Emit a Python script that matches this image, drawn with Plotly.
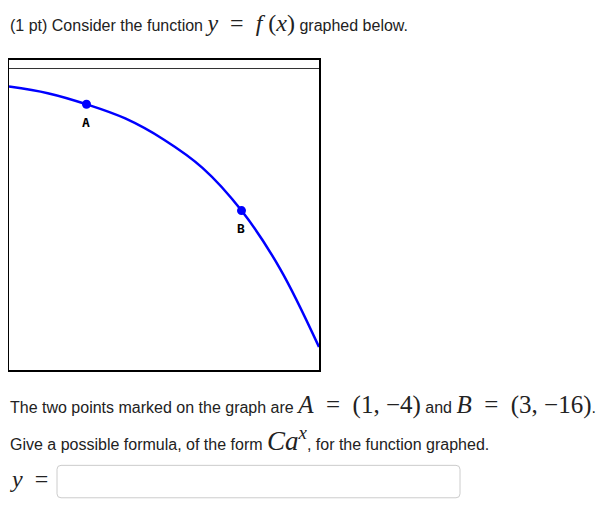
import plotly.graph_objects as go

# values
curve_x = [0, 0.5, 1, 1.5, 2, 2.5, 3, 3.5, 4]
curve_y = [-2, -2.75, -4, -5.6, -8, -11.2, -16, -22.6, -31.4]
point_names = ["A", "B"]
point_x = [1, 3]
point_y = [-4, -16]

# the page body adds an 8px margin, so the figure is a bit smaller than the window
OFF = 8
W, H = 608 - OFF, 519 - OFF
# plot box in window pixels
L, R, T, B = 9, 319, 59.5, 370

SERIF = "'Liberation Serif', 'DejaVu Serif', serif"


def px(x):
    return (x - L) / (R - L)


def py(y):
    return (B - y) / (B - T)


def math(s, size=25):
    return f"<span style=\"font-family:{SERIF};font-size:{size}px\">{s}</span>"


fig = go.Figure()

fig.add_trace(go.Scatter(
    x=curve_x, y=curve_y, mode="lines",
    line=dict(color="#0000ff", width=2.5, shape="spline"),
    hoverinfo="skip",
))
fig.add_trace(go.Scatter(
    x=point_x, y=point_y, mode="markers",
    marker=dict(color="#0000ff", size=9),
    hoverinfo="skip",
))

# point labels sit a little below each marker
for n, x, y in zip(point_names, point_x, point_y):
    fig.add_annotation(x=x, y=y, text=f"<b>{n}</b>", showarrow=False,
                       yshift=-18, xshift=-1,
                       font=dict(family="DejaVu Sans Mono", size=13, color="#000"))

fig.update_xaxes(range=[0, 4], showticklabels=False, ticks="", showgrid=False,
                 zeroline=False, showline=True, mirror=True,
                 linecolor="#000", linewidth=1.5)
fig.update_yaxes(range=[-34, 1], showticklabels=False, ticks="", showgrid=False,
                 zeroline=True, zerolinecolor="#333", zerolinewidth=1.2,
                 showline=True, mirror=True, linecolor="#000", linewidth=1.5)

sp = "&nbsp;"
eq = f"{sp}{sp}={sp}{sp}"
font = dict(family="Liberation Sans, Arial, sans-serif", size=16, color="#222")
texts = [
    (8, 22, "(1 pt) Consider the function "
     + math(f"<i>y</i>{eq}<i>f</i>{sp}(<i>x</i>)", 24) + " graphed below."),
    (8, 405, "The two points marked on the graph are "
     + math(f"<i>A</i>{eq}(1,{sp}\u22124)") + " and "
     + math(f"<i>B</i>{eq}(3,{sp}\u221216)") + "."),
    (8, 439, "Give a possible formula, of the form "
     + math("<i>Ca<sup>x</sup></i>", 27) + ", for the function graphed."),
    (8, 479, math(f"<i>y</i>{eq}", 24)),
]
for x0, y0, s in texts:
    fig.add_annotation(xref="paper", yref="paper", x=px(x0), y=py(y0),
                       xanchor="left", yanchor="middle", text=s,
                       showarrow=False, font=font, align="left")

# answer input box
fig.add_shape(type="path", xref="paper", yref="paper",
              path=(f"M {px(61)},{py(465.5)} L {px(456)},{py(465.5)} "
                    f"Q {px(460)},{py(465.5)} {px(460)},{py(469.5)} "
                    f"L {px(460)},{py(494)} Q {px(460)},{py(498)} {px(456)},{py(498)} "
                    f"L {px(61)},{py(498)} Q {px(57)},{py(498)} {px(57)},{py(494)} "
                    f"L {px(57)},{py(469.5)} Q {px(57)},{py(465.5)} {px(61)},{py(465.5)} Z"),
              line=dict(color="#cccccc", width=1), fillcolor="white")

fig.update_layout(
    width=W, height=H, showlegend=False,
    margin=dict(l=L - OFF, r=W - (R - OFF), t=T - OFF, b=H - (B - OFF)),
    paper_bgcolor="white", plot_bgcolor="white",
)

fig.write_html("out.html", config={"displayModeBar": False})
